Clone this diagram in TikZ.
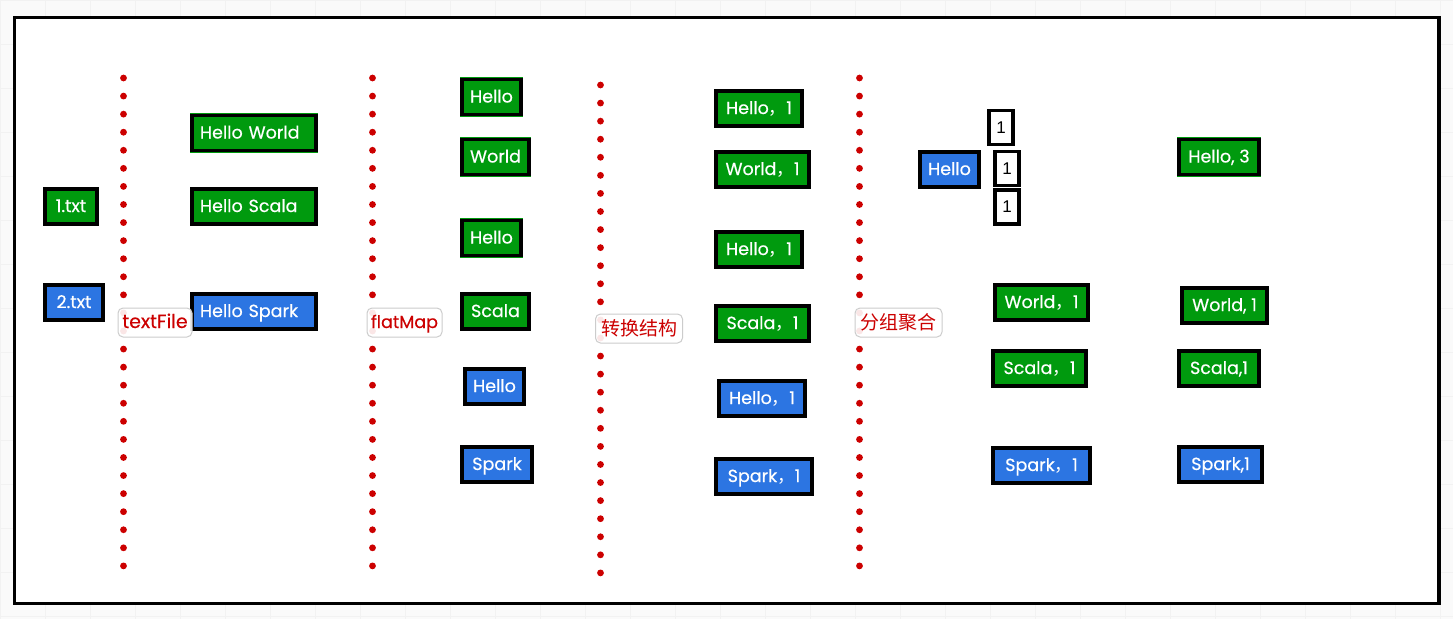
\documentclass[tikz,border=0pt]{standalone}
\usepackage{fontspec}
\setmainfont[FakeBold=0.4]{Poppins}
\newfontfamily\cjk{Noto Sans CJK SC}
\newfontfamily\plainfont{Liberation Sans}
\newcommand{\fwcomma}{{\cjk ，}}
\definecolor{boxgreen}{HTML}{009A0E}
\definecolor{boxblue}{HTML}{2C75E2}
\definecolor{dotred}{HTML}{CC0000}
\tikzset{
    every node/.style={font=\fontsize{17.5}{20}\selectfont},
    wordbox/.style={draw=black,line width=3.6pt,minimum height=35pt,inner sep=0pt,text=white,text height=14pt,text depth=3pt},
    greenbox/.style={wordbox,fill=boxgreen,preaction={draw=boxgreen,line width=4.8pt}},
    bluebox/.style={wordbox,fill=boxblue,preaction={draw=boxblue,line width=4.8pt}},
    countbox/.style={draw=black,line width=3.6pt,fill=white,minimum width=24.5pt,minimum height=34pt,inner sep=0pt,font=\plainfont\fontsize{17}{18}\selectfont},
    steplabel/.style={draw=black!20,line width=1pt,rounded corners=5pt,fill=white,fill opacity=.9,text opacity=1,text=dotred,minimum height=29pt,inner sep=0pt,text height=14pt,text depth=3pt},
    dotline/.style={draw=dotred,line width=6.8pt,line cap=round,dash pattern=on 0pt off 18.07pt}
}
\begin{document}
\begin{tikzpicture}[x=1pt,y=-1pt]
    \useasboundingbox (0,0) rectangle (1453,619);
    % page and its grid
    \fill[black!2] (0,0) rectangle (1453,619);
    \foreach \gx in {0,45,...,1440}
        \draw[black!5,line width=.8pt] (\gx,0) -- (\gx,619);
    \foreach \gy in {0,44,...,616}
        \draw[black!5,line width=.8pt] (0,\gy) -- (1453,\gy);
    \draw[line width=3.6pt,fill=white] (14.5,17.5) rectangle (1439,603.5);

    % dotted separators
    \coordinate (sep1a) at (123.5,78);
    \coordinate (sep1b) at (123.5,567);
    \coordinate (sep2a) at (372.5,78);
    \coordinate (sep2b) at (372.5,567);
    \coordinate (sep3a) at (600.5,85);
    \coordinate (sep3b) at (600.5,574);
    \coordinate (sep4a) at (859.5,78);
    \coordinate (sep4b) at (859.5,567);
    \draw[dotline] (sep1a) -- (sep1b);
    \draw[dotline] (sep2a) -- (sep2b);
    \draw[dotline] (sep3a) -- (sep3b);
    \draw[dotline] (sep4a) -- (sep4b);

    % input files
    \node[greenbox,minimum width=52pt] (file1) at (71,206.5) {1.txt};
    \node[bluebox,minimum width=58pt] (file2) at (74,302.5) {2.txt};

    % lines
    \node[greenbox,minimum width=124pt,text width=108pt] (line1) at (254,133) {Hello World};
    \node[greenbox,minimum width=124pt,text width=108pt] (line2) at (254,206.5) {Hello Scala};
    \node[bluebox,minimum width=124pt,text width=108pt] (line3) at (254,311.5) {Hello Spark};

    % words
    \node[greenbox,minimum width=59pt] (word1) at (491.5,97) {Hello};
    \node[greenbox,minimum width=67pt] (word2) at (495.5,157) {World};
    \node[greenbox,minimum width=59pt] (word3) at (491.5,238) {Hello};
    \node[greenbox,minimum width=67pt] (word4) at (495.5,311.5) {Scala};
    \node[bluebox,minimum width=59pt] (word5) at (494.5,386.5) {Hello};
    \node[bluebox,minimum width=70pt] (word6) at (497,464.5) {Spark};

    % pairs
    \node[greenbox,minimum width=86pt] (pair1) at (759,108.5) {Hello\fwcomma 1};
    \node[greenbox,minimum width=93pt] (pair2) at (762.5,169.5) {World\fwcomma 1};
    \node[greenbox,minimum width=86pt] (pair3) at (759,249.5) {Hello\fwcomma 1};
    \node[greenbox,minimum width=93pt] (pair4) at (762.5,323.5) {Scala\fwcomma 1};
    \node[bluebox,minimum width=86pt] (pair5) at (762,398.5) {Hello\fwcomma 1};
    \node[bluebox,minimum width=96pt] (pair6) at (764,476.5) {Spark\fwcomma 1};

    % groups
    \node[bluebox,minimum width=59pt] (group1) at (949.5,169.5) {Hello};
    \node[countbox] (one1) at (1001,127.5) {1};
    \node[countbox] (one2) at (1007,168.5) {1};
    \node[countbox] (one3) at (1007,207) {1};
    \node[greenbox,minimum width=93pt] (group2) at (1041.5,302.5) {World\fwcomma 1};
    \node[greenbox,minimum width=93pt] (group3) at (1039.5,368.5) {Scala\fwcomma 1};
    \node[bluebox,minimum width=97pt] (group4) at (1041.5,465.5) {Spark\fwcomma 1};

    % totals
    \node[greenbox,minimum width=80pt] (total1) at (1219,157) {Hello, 3};
    \node[greenbox,minimum width=85pt] (total2) at (1224.5,305.5) {World, 1};
    \node[greenbox,minimum width=80pt] (total3) at (1219,368.5) {Scala,1};
    \node[bluebox,minimum width=83pt] (total4) at (1220.5,464.5) {Spark,1};

    % step names
    \node[steplabel,minimum width=74pt,font=\fontsize{19}{22}\selectfont] (step1) at (155,322.5) {textFile};
    \node[steplabel,minimum width=75pt] (step2) at (404.5,322.5) {flatMap};
    \node[steplabel,minimum width=87pt,text height=15pt,text depth=2pt,font=\cjk\fontsize{19}{22}\selectfont] (step3) at (639,328.5) {转换结构};
    \node[steplabel,minimum width=87pt,text height=15pt,text depth=2pt,font=\cjk\fontsize{19}{22}\selectfont] (step4) at (898.5,322.5) {分组聚合};
\end{tikzpicture}
\end{document}
